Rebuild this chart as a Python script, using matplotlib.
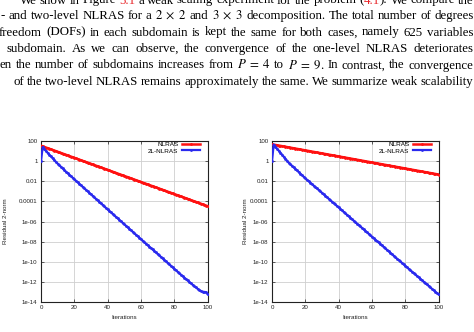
import re
import matplotlib
matplotlib.use("Agg")
import matplotlib.pyplot as plt
import numpy as np

# ---------------- data (log10 of residual 2-norm) ----------------
iterations = list(range(0, 101))

left_nlras_log10 = [
    1.53, 1.47, 1.41, 1.35, 1.29, 1.23, 1.17, 1.11, 1.05, 0.99,
    0.93, 0.87, 0.81, 0.75, 0.69, 0.63, 0.57, 0.51, 0.45, 0.39,
    0.33, 0.27, 0.21, 0.15, 0.09, 0.03, -0.03, -0.09, -0.15, -0.21,
    -0.27, -0.33, -0.39, -0.45, -0.51, -0.57, -0.63, -0.69, -0.75, -0.81,
    -0.87, -0.93, -0.99, -1.05, -1.11, -1.17, -1.23, -1.29, -1.35, -1.41,
    -1.47, -1.53, -1.59, -1.65, -1.71, -1.77, -1.83, -1.89, -1.95, -2.01,
    -2.07, -2.13, -2.19, -2.25, -2.31, -2.37, -2.43, -2.49, -2.55, -2.61,
    -2.67, -2.73, -2.79, -2.85, -2.91, -2.97, -3.03, -3.09, -3.15, -3.21,
    -3.27, -3.33, -3.39, -3.45, -3.51, -3.57, -3.63, -3.69, -3.75, -3.81,
    -3.87, -3.93, -3.99, -4.05, -4.11, -4.17, -4.23, -4.29, -4.35, -4.41,
    -4.47]

left_2l_nlras_log10 = [
    0.00, 1.40, 1.20, 1.01, 0.82, 0.64, 0.46, 0.28, 0.10, -0.08,
    -0.25, -0.41, -0.57, -0.73, -0.89, -1.05, -1.20, -1.35, -1.50, -1.65,
    -1.80, -1.95, -2.10, -2.25, -2.40, -2.55, -2.70, -2.85, -3.00, -3.15,
    -3.30, -3.45, -3.60, -3.75, -3.90, -4.05, -4.20, -4.35, -4.50, -4.65,
    -4.80, -4.95, -5.09, -5.24, -5.39, -5.54, -5.68, -5.83, -5.98, -6.13,
    -6.27, -6.42, -6.57, -6.72, -6.86, -7.01, -7.16, -7.31, -7.45, -7.60,
    -7.75, -7.90, -8.04, -8.19, -8.34, -8.49, -8.63, -8.78, -8.93, -9.08,
    -9.22, -9.37, -9.52, -9.67, -9.81, -9.96, -10.11, -10.26, -10.40, -10.55,
    -10.70, -10.84, -10.99, -11.13, -11.28, -11.42, -11.57, -11.71, -11.86, -12.00,
    -12.14, -12.28, -12.42, -12.55, -12.68, -12.80, -12.90, -12.97, -13.00, -13.02,
    -13.22]

right_nlras_log10 = [
    1.67, 1.64, 1.61, 1.58, 1.55, 1.52, 1.49, 1.46, 1.43, 1.40,
    1.37, 1.34, 1.31, 1.28, 1.25, 1.22, 1.19, 1.16, 1.13, 1.10,
    1.07, 1.04, 1.01, 0.98, 0.95, 0.92, 0.89, 0.86, 0.83, 0.80,
    0.77, 0.74, 0.71, 0.68, 0.65, 0.62, 0.59, 0.56, 0.53, 0.50,
    0.47, 0.44, 0.41, 0.38, 0.35, 0.32, 0.29, 0.26, 0.23, 0.20,
    0.17, 0.14, 0.11, 0.08, 0.05, 0.02, -0.01, -0.04, -0.07, -0.10,
    -0.13, -0.16, -0.19, -0.22, -0.25, -0.28, -0.31, -0.34, -0.37, -0.40,
    -0.43, -0.46, -0.49, -0.52, -0.55, -0.58, -0.61, -0.64, -0.67, -0.70,
    -0.73, -0.76, -0.79, -0.82, -0.85, -0.88, -0.91, -0.94, -0.97, -1.00,
    -1.03, -1.06, -1.09, -1.12, -1.15, -1.18, -1.21, -1.24, -1.27, -1.30,
    -1.33]

right_2l_nlras_log10 = [
    0.00, 1.65, 1.45, 1.25, 1.05, 0.85, 0.65, 0.45, 0.25, 0.05,
    -0.15, -0.31, -0.46, -0.62, -0.77, -0.93, -1.08, -1.24, -1.39, -1.55,
    -1.70, -1.85, -1.99, -2.14, -2.28, -2.43, -2.57, -2.72, -2.86, -3.01,
    -3.15, -3.30, -3.44, -3.59, -3.73, -3.88, -4.02, -4.17, -4.31, -4.46,
    -4.60, -4.75, -4.89, -5.04, -5.18, -5.33, -5.47, -5.62, -5.76, -5.91,
    -6.05, -6.20, -6.34, -6.49, -6.63, -6.78, -6.92, -7.07, -7.21, -7.36,
    -7.50, -7.65, -7.79, -7.94, -8.08, -8.23, -8.37, -8.52, -8.66, -8.81,
    -8.95, -9.10, -9.24, -9.39, -9.53, -9.68, -9.82, -9.97, -10.11, -10.26,
    -10.40, -10.54, -10.69, -10.83, -10.97, -11.11, -11.26, -11.40, -11.54, -11.68,
    -11.83, -11.97, -12.11, -12.25, -12.39, -12.54, -12.68, -12.82, -12.96, -13.11,
    -13.25]

series_labels = ["NLRAS", "2L-NLRAS"]
x_ticks = [0, 20, 40, 60, 80, 100]
y_tick_values = [1e-14, 1e-12, 1e-10, 1e-08, 1e-06, 1e-04, 1e-02, 1, 100]
y_tick_labels = ["1e-14", "1e-12", "1e-10", "1e-08", "1e-06", "0.0001", "0.01", "1", "100"]
x_label = "Iterations"
y_label = "Residual 2-norm"

# paper text above the figure ({...} marks red reference numbers)
paragraph_lines = [
    "We show in Figure {5.1} a weak scaling experiment for the problem ({4.1}). We compare the",
    "- and two-level NLRAS for a $2\\;\\times\\;2$ and $3\\;\\times\\;3$ decomposition. The total number of degrees",
    "freedom (DOFs) in each subdomain is kept the same for both cases, namely 625 variables",
    "subdomain.  As we can observe, the convergence of the one-level NLRAS deteriorates",
    "en the number of subdomains increases from $P\\;=\\;4$ to $P\\;=\\;9$. In contrast, the convergence",
    "of the two-level NLRAS remains approximately the same. We summarize weak scalability",
]

# ---------------- layout ----------------
W, H = 474, 332
plt.rcParams["mathtext.fontset"] = "stix"
fig = plt.figure(figsize=(W / 100, H / 100), dpi=100)
fig.patch.set_facecolor("white")

line_starts = [20, 1, -1, 6.5, 0, 13]
line_end = 473.5
line_baselines = [3.5, 19, 35.5, 52, 68.5, 85]
para_size = 9.3
red_ref = "#e8262a"

renderer = fig.canvas.get_renderer()


def text_width(t):
    return t.get_window_extent(renderer=renderer).width


for line, x0, yb in zip(paragraph_lines, line_starts, line_baselines):
    words = [w for w in line.split(" ") if w != ""]
    y = 1 - yb / H
    word_artists = []
    widths = []
    for w in words:
        parts = [p for p in re.split(r"(\{[^}]*\})", w) if p]
        arts = []
        wsum = 0.0
        for p in parts:
            color = "black"
            if p.startswith("{"):
                p = p[1:-1]
                color = red_ref
            t = fig.text(0, y, p, fontsize=para_size, family="Liberation Serif",
                         color=color, va="baseline", ha="left")
            pw = text_width(t)
            arts.append((t, pw))
            wsum += pw
        word_artists.append(arts)
        widths.append(wsum)
    gap = (line_end - x0 - sum(widths)) / max(len(words) - 1, 1)
    x = x0
    for arts, ww in zip(word_artists, widths):
        xx = x
        for t, pw in arts:
            t.set_x(xx / W)
            xx += pw
        x += ww + gap

# ---------------- plots ----------------
red = "#ff1010"
blue = "#2a2aee"
tick_font = dict(family="Liberation Sans", size=4.4)

panels = [
    (41, left_nlras_log10, left_2l_nlras_log10, -0.20),
    (272, right_nlras_log10, right_2l_nlras_log10, -0.145),
]
ax_top, ax_bottom = 141, 302
for left_px, red_log, blue_log, ylab_x in panels:
    ax = fig.add_axes([left_px / W, (H - ax_bottom) / H, 166.5 / W, (ax_bottom - ax_top) / H])
    ax.set_yscale("log")
    ax.plot(iterations, np.power(10.0, red_log), color=red, lw=1.8, marker="o",
            ms=2.0, mew=0, label=series_labels[0], zorder=3)
    ax.plot(iterations, np.power(10.0, blue_log), color=blue, lw=1.6, marker="o",
            ms=2.0, mew=0, label=series_labels[1], zorder=4)
    ax.set_xlim(0, 100)
    ax.set_ylim(1e-14, 100)
    ax.set_xticks(x_ticks)
    ax.set_xticklabels([str(v) for v in x_ticks], **tick_font)
    ax.set_yticks(y_tick_values)
    ax.set_yticklabels(y_tick_labels, **tick_font)
    ax.yaxis.set_minor_locator(matplotlib.ticker.NullLocator())
    ax.tick_params(which="both", direction="in", top=True, right=True, length=2.2,
                   width=0.5, pad=2.5, colors="#222222")
    ax.grid(True, color="#cfcfcf", lw=0.6, zorder=0)
    ax.set_axisbelow(True)
    for s in ax.spines.values():
        s.set_color("#222222")
        s.set_linewidth(0.8)
    ax.set_xlabel(x_label, fontsize=4.5, family="Liberation Sans", color="#222222", labelpad=3)
    ax.set_ylabel(y_label, fontsize=4.5, family="Liberation Sans", color="#222222")
    ax.yaxis.set_label_coords(ylab_x, 0.5)
    leg = ax.legend(loc="upper right", bbox_to_anchor=(0.955, 0.995), frameon=False,
                    markerfirst=False, prop=dict(family="Liberation Sans", size=4.6),
                    handlelength=2.8, handletextpad=0.6, labelspacing=0.15,
                    borderpad=0.0, borderaxespad=0.0)

fig.savefig("out.png", dpi=100, facecolor="white")
